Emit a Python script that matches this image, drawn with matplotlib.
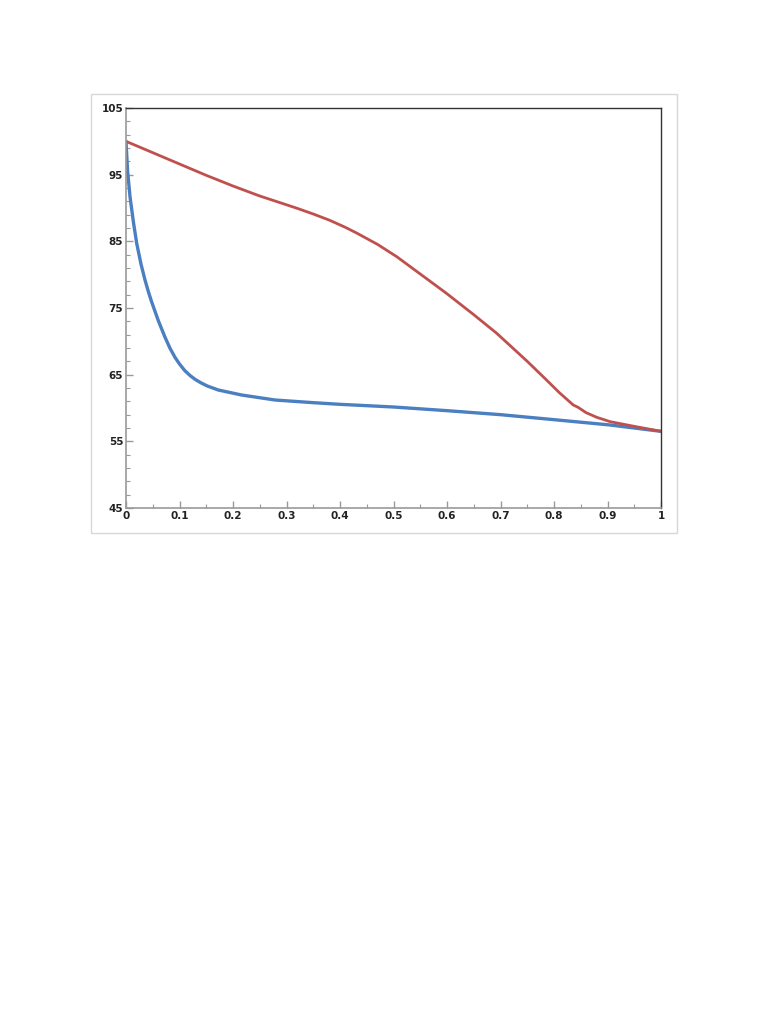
import matplotlib
matplotlib.use("Agg")
from matplotlib import pyplot as plt
from matplotlib.patches import Rectangle
from matplotlib.ticker import FixedLocator, MultipleLocator, FuncFormatter

# upper (red) curve
red_x = [0.0, 0.05, 0.1, 0.15, 0.2, 0.25, 0.288, 0.32, 0.35, 0.381, 0.41, 0.431,
         0.47, 0.506, 0.55, 0.599, 0.65, 0.693, 0.75, 0.786, 0.81, 0.836,
         0.845, 0.86, 0.88, 0.905, 0.95, 1.0]
red_y = [100.0, 98.3, 96.6, 94.9, 93.3, 91.8, 90.8, 89.95, 89.1, 88.15, 87.1, 86.25,
         84.55, 82.7, 80.1, 77.2, 74.0, 71.2, 67.0, 64.2, 62.3, 60.45,
         60.1, 59.3, 58.6, 57.95, 57.25, 56.5]

# lower (blue) curve
blue_x = [0.0, 0.003, 0.0075, 0.014, 0.02, 0.028, 0.0355, 0.042, 0.048, 0.0604,
          0.073, 0.082, 0.0916, 0.1, 0.11, 0.12, 0.13, 0.14, 0.152, 0.1725,
          0.216, 0.2785, 0.35, 0.4, 0.5, 0.6, 0.7, 0.8, 0.905, 1.0]
blue_y = [100.0, 95.5, 91.7, 87.8, 84.7, 81.6, 79.2, 77.4, 75.9, 73.1,
          70.6, 69.0, 67.6, 66.6, 65.6, 64.85, 64.25, 63.78, 63.3, 62.7,
          61.95, 61.2, 60.8, 60.55, 60.15, 59.6, 59.0, 58.25, 57.45, 56.5]

fig = plt.figure(figsize=(7.68, 10.24), dpi=100)
fig.patches.append(Rectangle((91 / 768, 1 - 533 / 1024), (677 - 91) / 768, (533 - 94) / 1024,
                             transform=fig.transFigure, fill=False,
                             edgecolor="#d8d8d8", linewidth=1.0))

ax = fig.add_axes([126 / 768, 1 - 508 / 1024, (661 - 126) / 768, (508 - 108) / 1024])
ax.plot(blue_x, blue_y, color="#4a7fc1", linewidth=2.4,
        solid_capstyle="round", solid_joinstyle="round")
ax.plot(red_x, red_y, color="#c0504d", linewidth=2.0,
        solid_capstyle="round", solid_joinstyle="round")

ax.set_xlim(0, 1)
ax.set_ylim(45, 105)
ax.xaxis.set_major_locator(MultipleLocator(0.1))
ax.xaxis.set_minor_locator(MultipleLocator(0.05))
ax.yaxis.set_major_locator(FixedLocator([45, 55, 65, 75, 85, 95, 105]))
ax.yaxis.set_minor_locator(FixedLocator(list(range(45, 106, 2))))


def fmt_x(v, pos):
    s = "%.1f" % v
    if s.endswith(".0"):
        s = s[:-2]
    return s


ax.xaxis.set_major_formatter(FuncFormatter(fmt_x))

for side in ["left", "bottom"]:
    ax.spines[side].set_color("#999999")
    ax.spines[side].set_linewidth(1.2)
for side in ["top", "right"]:
    ax.spines[side].set_color("#333333")
    ax.spines[side].set_linewidth(1.0)

ax.tick_params(which="both", direction="in", color="#999999", top=False, right=False)
ax.tick_params(which="major", length=5, width=1.0, labelsize=7.5, pad=2)
ax.tick_params(which="minor", length=3, width=0.8)
for lab in ax.get_xticklabels() + ax.get_yticklabels():
    lab.set_fontweight("bold")
    lab.set_color("#222222")

fig.savefig("out.png", dpi=100)
